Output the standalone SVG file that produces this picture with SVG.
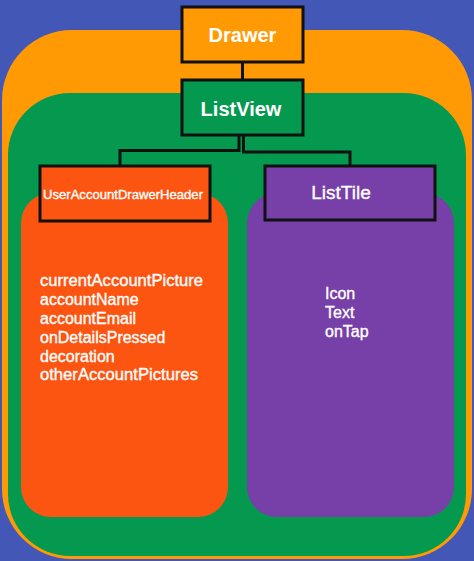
<svg xmlns="http://www.w3.org/2000/svg" width="474" height="561" viewBox="0 0 474 561">
  <style>
    .box { stroke: #111; stroke-width: 3; }
    .conn { fill: none; stroke: #111; stroke-width: 3; }
    .t { font-family: "Liberation Sans", Arial, sans-serif; fill: #fff; }
    .med { stroke: #fff; stroke-width: 0.35; }
    .title { font-size: 20px; font-weight: bold; text-anchor: middle; }
    .list { font-size: 16px; }
  </style>
  <rect x="0" y="0" width="474" height="561" fill="#4357b6"/>
  <g id="drawer-panel">
    <rect x="2" y="30" width="470" height="529" rx="70" ry="70" fill="#ff9a05"/>
  </g>
  <g id="listview-panel">
    <rect x="8" y="93" width="458" height="463" rx="62" ry="62" fill="#05994f"/>
  </g>
  <g id="header-panel">
    <rect x="21" y="193" width="207" height="324" rx="30" ry="30" fill="#fc5512"/>
    <text class="t list med" x="40" y="286" textLength="163" lengthAdjust="spacingAndGlyphs">currentAccountPicture</text>
    <text class="t list med" x="40" y="305">accountName</text>
    <text class="t list med" x="40" y="324">accountEmail</text>
    <text class="t list med" x="40" y="343">onDetailsPressed</text>
    <text class="t list med" x="40" y="362">decoration</text>
    <text class="t list med" x="40" y="380" textLength="158" lengthAdjust="spacingAndGlyphs">otherAccountPictures</text>
  </g>
  <g id="listtile-panel">
    <rect x="247" y="193" width="207" height="324" rx="30" ry="30" fill="#773fa8"/>
    <text class="t list med" x="325" y="299">Icon</text>
    <text class="t list med" x="325" y="318">Text</text>
    <text class="t list med" x="325" y="337">onTap</text>
  </g>
  <g id="connectors">
    <line class="conn" x1="242.5" y1="62" x2="242.5" y2="80"/>
    <polyline class="conn" points="239,135 239,150.5 120,150.5 120,166"/>
    <polyline class="conn" points="243.5,135 243.5,152 350,152 350,166"/>
  </g>
  <g id="node-drawer">
    <rect class="box" x="182" y="7" width="121" height="55" fill="#ff9a05"/>
    <text class="t title" x="242.5" y="42">Drawer</text>
  </g>
  <g id="node-listview">
    <rect class="box" x="182" y="80" width="121" height="55" fill="#05994f"/>
    <text class="t title" x="241" y="116">ListView</text>
  </g>
  <g id="node-useraccountdrawerheader">
    <rect class="box" x="40" y="166" width="170" height="55" fill="#fc5512"/>
    <text class="t med" x="123" y="199" font-size="13" text-anchor="middle" textLength="160" lengthAdjust="spacingAndGlyphs">UserAccountDrawerHeader</text>
  </g>
  <g id="node-listtile">
    <rect class="box" x="265" y="166" width="170" height="54" fill="#773fa8"/>
    <text class="t med" x="341" y="199" font-size="19" text-anchor="middle">ListTile</text>
  </g>
</svg>
